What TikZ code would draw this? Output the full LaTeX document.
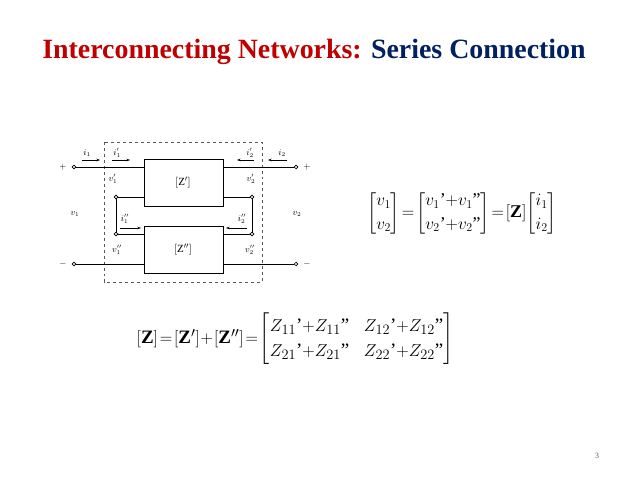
\documentclass[tikz,border=0pt]{standalone}
\usepackage{amsmath}
\usepackage{fontspec}
\setmainfont{Liberation Serif}
\usetikzlibrary{arrows.meta}
\definecolor{tred}{RGB}{192,0,0}
\definecolor{tblue}{RGB}{0,32,96}
\begin{document}
\begin{tikzpicture}[x=1bp,y=-1bp,
  wire/.style={line width=0.8pt},
  term/.style={circle,draw,line width=0.6pt,fill=white,inner sep=1.3pt},
  box/.style={draw,line width=0.8pt},
  cur/.style={-{Stealth[length=3.5pt,width=2.5pt]},line width=0.5pt},
  lab/.style={font=\fontsize{9}{10}\selectfont,inner sep=0pt}]
\useasboundingbox (0,0) rectangle (638,478);
\node (title) at (314,52) {\fontsize{28}{33}\selectfont\bfseries\textcolor{tred}{Interconnecting Networks:} \textcolor{tblue}{Series Connection}};
\draw[dashed,gray!70!black,line width=0.5pt] (104,142) rectangle (262,282);
\draw[box] (144,159) rectangle (223,206);
\draw[box] (144,226) rectangle (223,273);
\node[lab,font=\fontsize{11}{12}\selectfont] (zp) at (183,183) {$[\mathrm{Z}']$};
\node[lab,font=\fontsize{11}{12}\selectfont] (zpp) at (183,250) {$[\mathrm{Z}'']$};
\coordinate (tl) at (74,167); \coordinate (tr) at (296,167);
\coordinate (bl) at (74,264); \coordinate (br) at (296,264);
\draw[wire] (tl) -- (144,167); \draw[wire] (223,167) -- (tr);
\draw[wire] (bl) -- (144,264); \draw[wire] (223,264) -- (br);
\draw[wire] (144,197) -- (116,197) -- (116,234) -- (144,234);
\draw[wire] (223,197) -- (252,197) -- (252,234) -- (223,234);
\node[term] (ta) at (tl) {}; \node[term] (tb) at (tr) {};
\node[term] (tc) at (bl) {}; \node[term] (td) at (br) {};
\node[term] (te) at (116,197) {}; \node[term] (tf) at (116,234) {};
\node[term] (tg) at (252,197) {}; \node[term] (th) at (252,234) {};
\draw[cur] (82,160) -- (100,160); \node[lab] at (87,153) {$i_1$};
\draw[cur] (112,160) -- (130,160); \node[lab] at (117,153) {$i_1'$};
\draw[cur] (254,160) -- (237,160); \node[lab] at (250,153) {$i_2'$};
\draw[cur] (287,160) -- (268,160); \node[lab] at (282,153) {$i_2$};
\draw[cur] (120,228) -- (141,228); \node[lab] at (125,219) {$i_1''$};
\draw[cur] (247,228) -- (226,228); \node[lab] at (242,219) {$i_2''$};
\node[lab] at (113,179) {$v_1'$}; \node[lab] at (251,179) {$v_2'$};
\node[lab] at (117,250) {$v_1''$}; \node[lab] at (250,250) {$v_2''$};
\node[lab] at (75,214) {$v_1$}; \node[lab] at (297,214) {$v_2$};
\node[lab] at (63,167) {$+$}; \node[lab] at (307,167) {$+$};
\node[lab] at (63,264) {$-$}; \node[lab] at (307,264) {$-$};
\node[font=\fontsize{18}{22}\selectfont] (eq1) at (462,213) {$\begin{bmatrix} v_1\\[2pt] v_2\end{bmatrix}\!=\!\begin{bmatrix} v_1\text{'}{+}v_1\text{"}\\[2pt] v_2\text{'}{+}v_2\text{"}\end{bmatrix}\!=\![\mathbf{Z}]\!\begin{bmatrix} i_1\\[2pt] i_2\end{bmatrix}$};
\node[font=\fontsize{19}{23}\selectfont] (eq2) at (295,339) {$[\mathbf{Z}]\!=\![\mathbf{Z'}]\!+\![\mathbf{Z''}]\!=\!\begin{bmatrix} Z_{11}\text{'}{+}Z_{11}\text{"} & \;Z_{12}\text{'}{+}Z_{12}\text{"}\\[2pt] Z_{21}\text{'}{+}Z_{21}\text{"} & \;Z_{22}\text{'}{+}Z_{22}\text{"}\end{bmatrix}$};
\node[font=\fontsize{8}{9}\selectfont,text=gray!70!black] (pg) at (597,456) {3};
\end{tikzpicture}
\end{document}
